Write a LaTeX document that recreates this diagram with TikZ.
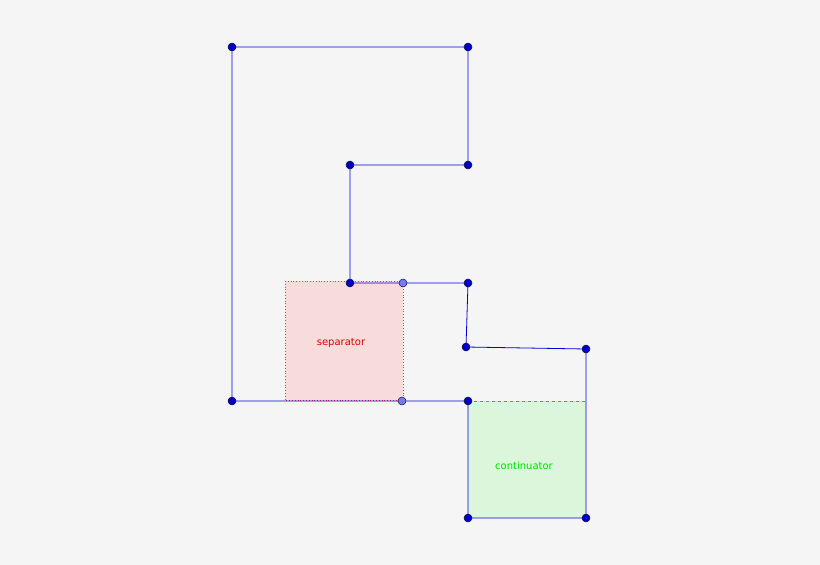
\documentclass[tikz,border=0pt]{standalone}
\usepackage{fontspec}
\setmainfont{DejaVu Sans}
\definecolor{bg}{RGB}{245,245,245}
\definecolor{ptfill}{RGB}{0,0,200}
\definecolor{ptdraw}{RGB}{20,20,60}
\definecolor{lptfill}{RGB}{120,120,240}
\definecolor{edgec}{RGB}{0,0,220}
\definecolor{sepfill}{RGB}{248,220,220}
\definecolor{confill}{RGB}{220,246,220}
\definecolor{congreen}{RGB}{0,220,0}
\begin{document}
\begin{tikzpicture}[x=1pt,y=-1pt,
 pt/.style={circle,fill=ptfill,draw=ptdraw,line width=0.5pt,inner sep=0pt,minimum size=8pt},
 lpt/.style={pt,fill=lptfill},
 edge/.style={draw=edgec,line width=0.8pt}]
\fill[bg] (0,0) rectangle (820,565);
\useasboundingbox (0,0) rectangle (820,565);
\fill[sepfill] (285,281) rectangle (403,400);
\draw[red!80,dotted,line width=0.8pt] (285,281) rectangle (403,400);
\fill[confill] (468,401) rectangle (586,518);
\node[text=red!85!black] (sep) at (341,343) {separator};
\node[text=congreen] (con) at (524,466) {continuator};
\coordinate (A) at (232,47); \coordinate (B) at (468,47); \coordinate (C) at (468,165);
\coordinate (D) at (350,165); \coordinate (E) at (350,283); \coordinate (F) at (403,283);
\coordinate (G) at (468,283); \coordinate (H) at (466,347); \coordinate (I) at (586,349);
\coordinate (J) at (586,518); \coordinate (K) at (468,518); \coordinate (L) at (468,401);
\coordinate (M) at (402,401); \coordinate (N) at (232,401); \coordinate (P) at (586,401);
\draw[congreen,dashed,line width=0.8pt] (L) -- (P);
\draw[edge] (A)--(B)--(C)--(D)--(E)--(G)--(H)--(I)--(J)--(K)--(L)--(N)--cycle;
\foreach \p in {A,B,C,D,E,G,H,I,J,K,L,N} \node[pt] at (\p) {};
\foreach \p in {F,M} \node[lpt] at (\p) {};
\end{tikzpicture}
\end{document}
